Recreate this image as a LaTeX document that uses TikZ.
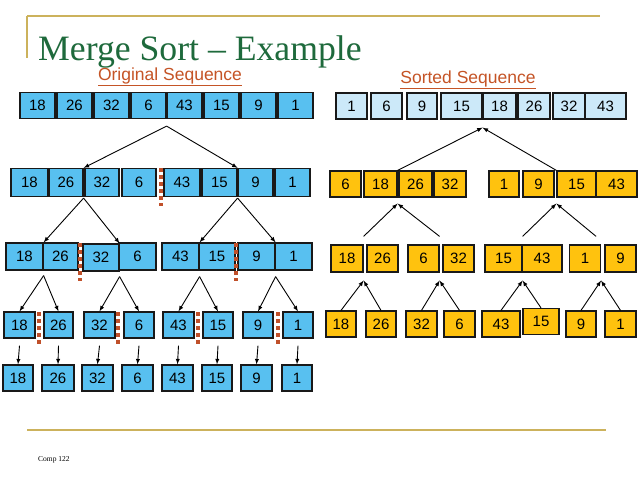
\documentclass[tikz,border=0pt]{standalone}
\usepackage{fontspec}
\setmainfont{Liberation Sans}
\newfontfamily\titlefont{Liberation Serif}
\usetikzlibrary{arrows}
\definecolor{cellblue}{RGB}{88,192,240}
\definecolor{cellpale}{RGB}{204,233,249}
\definecolor{cellgold}{RGB}{255,194,14}
\definecolor{titlegreen}{RGB}{30,106,60}
\definecolor{headred}{RGB}{197,84,38}
\definecolor{rulegold}{RGB}{204,178,92}
\definecolor{cutred}{RGB}{192,80,42}
\tikzset{
    part/.style={rectangle, draw=black!90, fill=cellblue, line width=1.2pt, minimum width=35pt, minimum height=26pt, inner sep=0pt},
    done/.style={part, fill=cellpale, minimum width=31pt},
    merge/.style={part, fill=cellgold, minimum width=31pt},
    cut/.style={draw=cutred, line width=3.5pt, dash pattern=on 4pt off 3pt},
    link/.style={-latex, line width=0.9pt},
    rule/.style={draw=rulegold, line width=1.5pt}
}

\begin{document}
\begin{tikzpicture}
  [
    x                       = 1pt,
    y                       = -1pt,
    every node/.style       = {font=\fontsize{15}{18}\selectfont},
  ]
  \fill [white] (0,0) rectangle (638,479);
  \useasboundingbox (0,0) rectangle (638,479);
  \draw [rule] (27,16) -- (600,16);
  \draw [rule] (27,16) -- (27,58);
  \draw [rule] (27,430) -- (606,430);
  \node [text=titlegreen, font=\titlefont\fontsize{35.7}{40}\selectfont, anchor=base west, inner sep=0pt] (title) at (38,60) {Merge Sort – Example};
  \node [text=headred, font=\fontsize{17.5}{20}\selectfont, anchor=base, inner sep=0pt] (orig) at (170,80) {\underline{Original Sequence}};
  \node [text=headred, font=\fontsize{17.5}{20}\selectfont, anchor=base, inner sep=0pt] (sorted) at (468,83) {\underline{Sorted Sequence}};
  \node [font=\titlefont\fontsize{7.5}{9}\selectfont, anchor=base west, inner sep=0pt] (comp) at (38,461) {Comp 122};

  \node [part] (a1) at (37.5,105.5) {18};
  \node [part] (a2) at (74.5,105.5) {26};
  \node [part] (a3) at (111.5,105.5) {32};
  \node [part] (a4) at (148.5,105.5) {6};
  \node [part] (a5) at (184.5,105.5) {43};
  \node [part] (a6) at (221.5,105.5) {15};
  \node [part] (a7) at (258.5,105.5) {9};
  \node [part] (a8) at (295.5,105.5) {1};

  \node [part, minimum height=28pt, minimum width=37pt] (b1) at (29.5,182.5) {18};
  \node [part, minimum height=28pt, minimum width=34pt] (b2) at (66,182.5) {26};
  \node [part, minimum height=28pt, minimum width=34pt] (b3) at (102,182.5) {32};
  \node [part, minimum height=28pt, minimum width=34pt] (b4) at (139,182.5) {6};
  \node [part, minimum height=28pt, minimum width=36pt] (b5) at (182,182.5) {43};
  \node [part, minimum height=28pt] (b6) at (219.5,182.5) {15};
  \node [part, minimum height=28pt] (b7) at (255.5,182.5) {9};
  \node [part, minimum height=28pt] (b8) at (292.5,182.5) {1};

  \node [part, minimum height=27pt, minimum width=37pt] (c1) at (24.5,256.5) {18};
  \node [part, minimum height=27pt] (c2) at (60.5,256.5) {26};
  \node [part, minimum height=27pt, minimum width=36pt] (c3) at (101,257.5) {32};
  \node [part, minimum height=27pt, minimum width=37pt] (c4) at (137.5,256.5) {6};
  \node [part, minimum height=27pt, minimum width=37pt] (c5) at (180.5,256.5) {43};
  \node [part, minimum height=27pt, minimum width=36pt] (c6) at (217,256.5) {15};
  \node [part, minimum height=27pt, minimum width=37pt] (c7) at (256.5,256.5) {9};
  \node [part, minimum height=27pt, minimum width=37pt] (c8) at (293.5,256.5) {1};

  \node [part, minimum width=31pt] (d1) at (19.5,325) {18};
  \node [part, minimum width=29pt] (d2) at (58.5,325) {26};
  \node [part, minimum width=31pt] (d3) at (99.5,325) {32};
  \node [part, minimum width=30pt] (d4) at (139,325) {6};
  \node [part, minimum width=31pt] (d5) at (178.5,325) {43};
  \node [part, minimum width=30pt] (d6) at (218,325) {15};
  \node [part, minimum width=30pt] (d7) at (258,325) {9};
  \node [part, minimum width=30pt] (d8) at (298,325) {1};

  \node [part, minimum width=30pt] (e1) at (18,378) {18};
  \node [part, minimum width=32pt] (e2) at (58,378) {26};
  \node [part, minimum width=31pt] (e3) at (97.5,378) {32};
  \node [part, minimum width=31pt] (e4) at (137.5,378) {6};
  \node [part, minimum width=31pt] (e5) at (177.5,378) {43};
  \node [part, minimum width=30pt] (e6) at (217,378) {15};
  \node [part, minimum width=31pt] (e7) at (256.5,378) {9};
  \node [part, minimum width=30pt] (e8) at (297,378) {1};

  \node [done] (s1) at (351.5,106) {1};
  \node [done] (s2) at (386.5,106) {6};
  \node [done, minimum width=30pt] (s3) at (422,106) {9};
  \node [done, minimum width=41pt] (s4) at (461.5,106) {15};
  \node [done, minimum width=33pt] (s5) at (499.5,106) {18};
  \node [done, minimum width=32pt] (s6) at (534,106) {26};
  \node [done, minimum width=32pt] (s7) at (569,106) {32};
  \node [done, minimum width=41pt] (s8) at (605.5,106) {43};

  \node [merge] (m1) at (345.5,184) {6};
  \node [merge, minimum width=33pt] (m2) at (380.5,184) {18};
  \node [merge, minimum width=33pt] (m3) at (415.5,184) {26};
  \node [merge, minimum width=32pt] (m4) at (450,184) {32};
  \node [merge, minimum width=30pt] (m5) at (504,184) {1};
  \node [merge] (m6) at (538.5,184) {9};
  \node [merge, minimum width=39pt] (m7) at (576.5,184) {15};
  \node [merge, minimum width=41pt] (m8) at (616.5,184) {43};

  \node [merge, minimum height=27pt, minimum width=32pt] (p1) at (347,258.5) {18};
  \node [merge, minimum height=27pt] (p2) at (382.5,258.5) {26};
  \node [merge, minimum height=27pt] (p3) at (423.5,258.5) {6};
  \node [merge, minimum height=27pt] (p4) at (458.5,258.5) {32};
  \node [merge, minimum height=27pt, minimum width=37pt] (p5) at (503.5,258.5) {15};
  \node [merge, minimum height=27pt, minimum width=40pt] (p6) at (542,258.5) {43};
  \node [merge, minimum height=27pt] (p7) at (585,258.5) {1};
  \node [merge, minimum height=27pt] (p8) at (620.5,258.5) {9};

  \node [merge, minimum width=30pt] (q1) at (341,324) {18};
  \node [merge, minimum width=30pt] (q2) at (381,324) {26};
  \node [merge] (q3) at (421.5,324) {32};
  \node [merge] (q4) at (459.5,324) {6};
  \node [merge, minimum width=38pt] (q5) at (501,324) {43};
  \node [merge, minimum width=36pt] (q6) at (541,321.5) {15};
  \node [merge, minimum width=30pt] (q7) at (581,324) {9};
  \node [merge] (q8) at (620.5,324) {1};

  \draw [link] ([yshift=-7pt]a4.south east) -- (b2.north east);
  \draw [link] ([yshift=-7pt]a4.south east) -- (b6.north east);
  \draw [link] ([yshift=-1pt]b2.south east) -- (c1.north east);
  \draw [link] ([yshift=-1pt]b2.south east) -- (c3.north east);
  \draw [link] ([yshift=-1pt]b6.south east) -- (c5.north east);
  \draw [link] ([yshift=-1pt]b6.south east) -- (c7.north east);
  \draw [link] ([yshift=-5pt]c1.south east) -- (d1.north);
  \draw [link] ([yshift=-5pt]c1.south east) -- (d2.north);
  \draw [link] ([yshift=-5pt]c3.south east) -- (d3.north);
  \draw [link] ([yshift=-5pt]c3.south east) -- (d4.north);
  \draw [link] ([yshift=-6pt]c5.south east) -- (d5.north);
  \draw [link] ([yshift=-6pt]c5.south east) -- (d6.north);
  \draw [link] ([yshift=-6pt]c7.south east) -- (d7.north);
  \draw [link] ([yshift=-6pt]c7.south east) -- (d8.north);
  \draw [link] ([yshift=-7pt]d1.south) -- (e1.north);
  \draw [link] ([yshift=-7pt]d2.south) -- (e2.north);
  \draw [link] ([yshift=-7pt]d3.south) -- (e3.north);
  \draw [link] ([yshift=-7pt]d4.south) -- (e4.north);
  \draw [link] ([yshift=-7pt]d5.south) -- (e5.north);
  \draw [link] ([yshift=-7pt]d6.south) -- (e6.north);
  \draw [link] ([yshift=-7pt]d7.south) -- (e7.north);
  \draw [link] ([yshift=-7pt]d8.south) -- (e8.north);

  \draw [link] (q1.north) -- ([yshift=-8pt]p1.south east);
  \draw [link] (q2.north) -- ([yshift=-8pt]p1.south east);
  \draw [link] (q3.north) -- ([yshift=-8pt]p3.south east);
  \draw [link] (q4.north) -- ([yshift=-8pt]p3.south east);
  \draw [link] (q5.north) -- ([yshift=-8pt]p5.south east);
  \draw [link] (q6.north) -- ([yshift=-8pt]p5.south east);
  \draw [link] (q7.north) -- ([yshift=-8pt]p7.south east);
  \draw [link] (q8.north) -- ([yshift=-8pt]p7.south east);
  \draw [link] ([yshift=8pt]p1.north east) -- ([yshift=-6pt]m2.south east);
  \draw [link] ([yshift=8pt]p3.north east) -- ([yshift=-6pt]m2.south east);
  \draw [link] ([yshift=8pt]p5.north east) -- ([yshift=-6pt]m7.south west);
  \draw [link] ([yshift=8pt, xshift=-5pt]p7.north east) -- ([yshift=-6pt]m7.south west);
  \draw [link] (m2.north east) -- ([yshift=-8pt]s4.south east);
  \draw [link] (m7.north west) -- ([yshift=-8pt]s4.south east);

  \draw [cut] (161,168) -- (161,206);
  \draw [cut] (80,243) -- (80,281);
  \draw [cut] (236,243) -- (236,281);
  \draw [cut] (39,312) -- (39,346);
  \draw [cut] (118,312) -- (118,346);
  \draw [cut] (198,312) -- (198,346);
  \draw [cut] (278,312) -- (278,346);
\end{tikzpicture}
\end{document}
